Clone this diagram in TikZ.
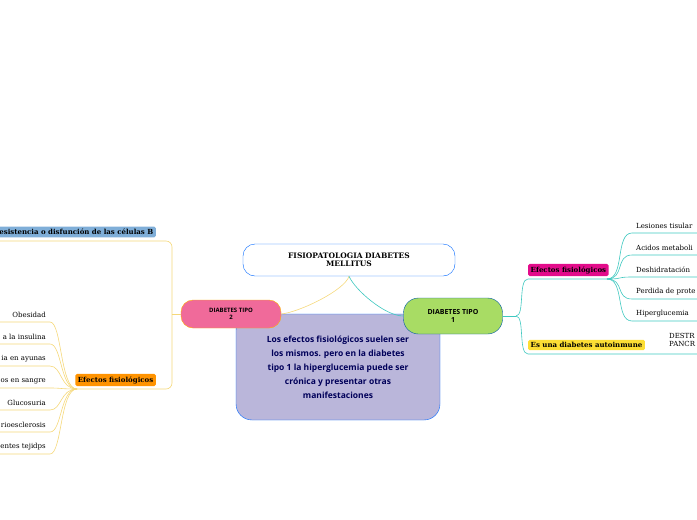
\documentclass[tikz,border=0pt]{standalone}
\usepackage{fontspec}
\setmainfont{DejaVu Serif}
\newfontfamily\osans{Open Sans}
\definecolor{tealc}{HTML}{3FC8C0}
\definecolor{yelc}{HTML}{F5D879}
\definecolor{notec}{HTML}{BAB6DA}
\definecolor{greenc}{HTML}{A8DC64}
\definecolor{pinkc}{HTML}{F06A9A}
\definecolor{bluec}{HTML}{7FAED8}
\begin{document}
\begin{tikzpicture}[x=1pt,y=-1pt,
 leaf/.style={font=\fontsize{7}{8}\selectfont,inner sep=1pt},
 lab/.style={font=\fontsize{7}{8}\selectfont\bfseries,rounded corners=1.5pt,inner sep=2.5pt},
 yl/.style={draw=yelc,line width=0.6pt},
 tl/.style={draw=tealc,line width=0.6pt}]
\useasboundingbox (0,0) rectangle (697,520);
\clip (0,0) rectangle (697,520);
% central nodes
\node[draw=blue!60!cyan,rounded corners=12pt,minimum width=212pt,minimum height=32pt,align=center,font=\fontsize{7.5}{8.5}\selectfont\bfseries] (title) at (349,260) {FISIOPATOLOGIA DIABETES\\MELLITUS};
\node[draw=blue!60!cyan,fill=notec,rounded corners=16pt,minimum width=204pt,minimum height=106pt,align=center,text=blue!35!black,font=\osans\fontsize{8.5}{14}\selectfont\bfseries] (note) at (338,367) {Los efectos fisiológicos suelen ser\\los mismos. pero en la diabetes\\tipo 1 la hiperglucemia puede ser\\crónica y presentar otras\\manifestaciones};
\node[draw=orange!60!yellow,fill=pinkc,rounded corners=12pt,minimum width=100pt,minimum height=28pt,align=center,font=\osans\fontsize{6}{6.5}\selectfont\bfseries] (t2) at (231,314) {DIABETES TIPO\\2};
\node[draw=teal!70!blue,fill=greenc,rounded corners=15pt,minimum width=99pt,minimum height=36pt,align=center,font=\osans\fontsize{7}{8}\selectfont\bfseries] (t1) at (453,316) {DIABETES TIPO\\1};
\draw[yl] (title.south) .. controls (345,290) and (300,312) .. (t2.east);
\draw[tl] (title.south) .. controls (355,290) and (385,316) .. (t1.west);
% left side
\node[lab,fill=bluec,anchor=east] (res) at (156,232) {Resistencia o disfunción de las células B};
\node[lab,fill=orange!85!yellow,anchor=east] (efl) at (156,380) {Efectos fisiológicos};
\draw[yl] (0,241) -- (166,241) to[out=0,in=90] (172,247) -- (172,383) to[out=270,in=0] (166,389) -- (77,389);
\draw[yl] (172,314) -- (t2.west);
\foreach \t/\y [count=\i] in {Obesidad/315,a la insulina/337,ia en ayunas/359,os en sangre/381,Glucosuria/403,rioesclerosis/425,entes tejidps/447}{
 \node[leaf,anchor=east] (l\i) at (47,\y) {\t};
 \draw[yl] (77,389) .. controls (60,389) and (62,\y+7) .. (50,\y+7) -- (0,\y+7);
}
% right side
\draw[tl] (t1.east) -- (516,316);
\node[lab,fill=magenta!90!violet,anchor=west] (efr) at (528,270) {Efectos fisiológicos};
\node[lab,fill=yellow!75!orange!80,anchor=west] (auto) at (528,345) {Es una diabetes autoinmune};
\draw[tl] (516,316) .. controls (525,316) and (518,279) .. (528,279) -- (607,279);
\draw[tl] (516,316) .. controls (525,316) and (518,354) .. (528,354) -- (697,354);
\foreach \t/\y [count=\i] in {Lesiones tisular/226,Acidos metaboli/248,Deshidratación/270,Perdida de prote/292,Hiperglucemia/314}{
 \node[leaf,anchor=west] (r\i) at (635,\y) {\t};
 \draw[tl] (607,279) .. controls (625,279) and (615,\y+7) .. (632,\y+7) -- (697,\y+7);
}
\node[leaf,anchor=west,align=left] (des) at (668,340) {DESTR\\PANCR};
\end{tikzpicture}
\end{document}
